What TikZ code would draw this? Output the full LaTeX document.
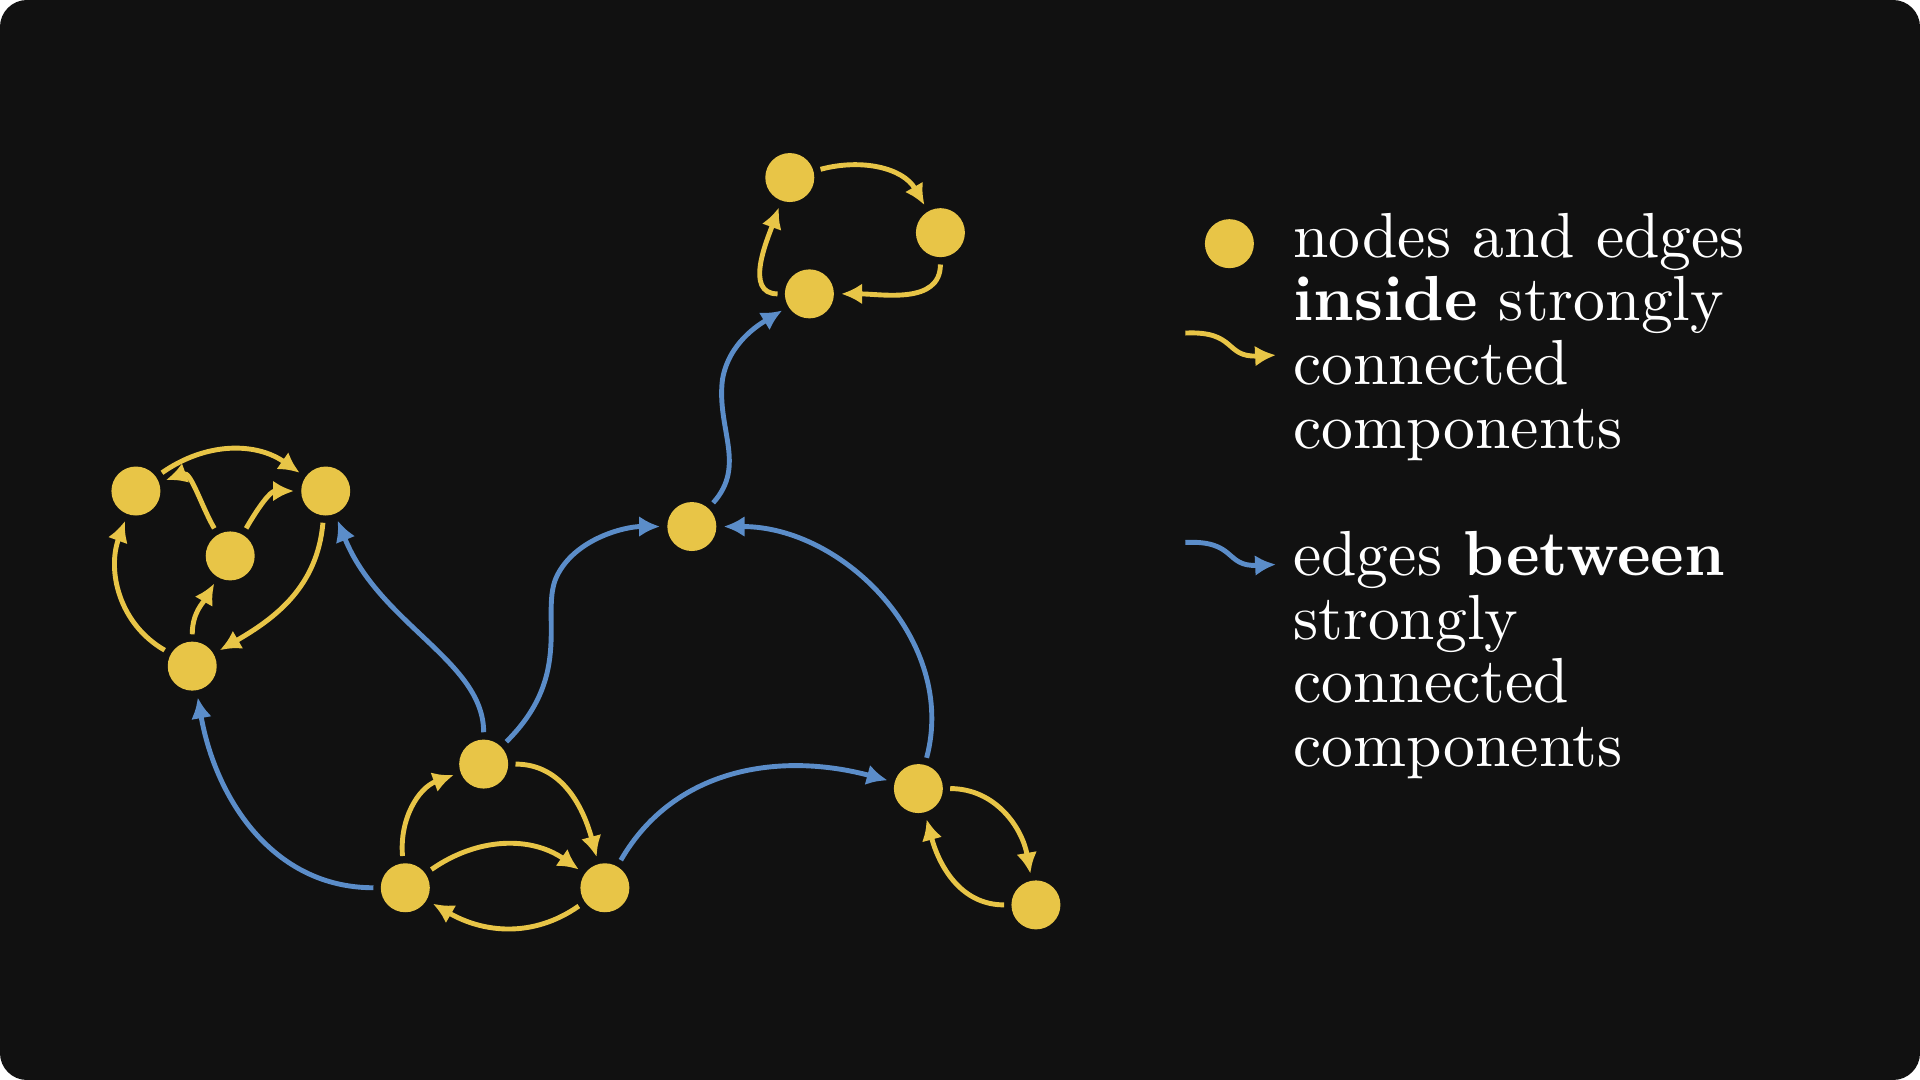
\documentclass[tikz,border=0pt]{standalone}
\usetikzlibrary{arrows.meta}
\definecolor{bg}{HTML}{111111}
\definecolor{yel}{HTML}{E8C547}
\definecolor{blu}{HTML}{5B8DC9}
\newcommand{\bigtxt}[1]{\scalebox{5.2}{\fontsize{10}{12}\selectfont #1}}
\begin{document}
\begin{tikzpicture}[x=1pt,y=-1pt,
  vert/.style={circle,fill=yel,minimum size=40pt,inner sep=0pt,outer sep=6pt},
  ein/.style={draw=yel,line width=4pt,-{Latex[length=17pt,width=17pt]}},
  ebt/.style={draw=blu,line width=4pt,-{Latex[length=17pt,width=17pt]}},
  lab/.style={text=white,anchor=base west,inner sep=0pt}]
\fill[white] (0,0) rectangle (1568,882);
\fill[bg,rounded corners=22pt] (0,0) rectangle (1568,882);
\node[vert] (A) at (645,145) {};
\node[vert] (B) at (768,190) {};
\node[vert] (C) at (661,240) {};
\node[vert] (D) at (111,401) {};
\node[vert] (E) at (266,401) {};
\node[vert] (F) at (188,454) {};
\node[vert] (G) at (157,544) {};
\node[vert] (H) at (565,430) {};
\node[vert] (I) at (395,624) {};
\node[vert] (J) at (331,725) {};
\node[vert] (K) at (494,725) {};
\node[vert] (L) at (750,644) {};
\node[vert] (M) at (846,739) {};
% inside
\draw[ein] (A) to[out=15,in=120] (B);
\draw[ein] (C) to[out=180,in=250] (A);
\draw[ein] (B) to[out=270,in=0] (C);
\draw[ein] (D) to[out=35,in=145] (E);
\draw[ein] (F) to[out=120,in=20] (D);
\draw[ein] (F) to[out=60,in=180] (E);
\draw[ein] (G) to[out=90,in=240] (F);
\draw[ein] (G) to[out=150,in=250] (D);
\draw[ein] (E) to[out=265,in=30] (G);
\draw[ein] (J) to[out=95,in=200] (I);
\draw[ein] (I) to[out=0,in=105] (K);
\draw[ein] (J) to[out=35,in=145] (K);
\draw[ein] (K) to[out=215,in=330] (J);
\draw[ein] (L) to[out=0,in=100] (M);
\draw[ein] (M) to[out=180,in=285] (L);
% between
\draw[ebt] (J) to[out=180,in=280] (G);
\draw[ebt] (I) .. controls (395,540) and (310,510) .. (E);
\draw[ebt] (I) .. controls (470,550) and (440,500) .. (455,470) .. controls (470,440) and (510,430) .. (H);
\draw[ebt] (K) to[out=60,in=165] (L);
\draw[ebt] (L) to[out=75,in=0] (H);
\draw[ebt] (H) .. controls (610,380) and (585,350) .. (590,310) .. controls (595,280) and (620,265) .. (C);
% legend
\node[circle,fill=yel,minimum size=40pt,inner sep=0pt] (lg) at (1004,199) {};
\coordinate (y1) at (968,272); \coordinate (y2) at (1042,290);
\draw[ein] (y1) .. controls (1010,270) and (1000,292) .. (y2);
\coordinate (b1) at (968,443); \coordinate (b2) at (1042,461);
\draw[ebt] (b1) .. controls (1010,441) and (1000,463) .. (b2);
\node[lab] (t1) at (1056,210) {\bigtxt{nodes and edges}};
\node[lab] (t2) at (1056,262) {\bigtxt{\textbf{inside} strongly}};
\node[lab] (t3) at (1056,314) {\bigtxt{connected}};
\node[lab] (t4) at (1056,366) {\bigtxt{components}};
\node[lab] (t5) at (1056,470) {\bigtxt{edges \textbf{between}}};
\node[lab] (t6) at (1056,522) {\bigtxt{strongly}};
\node[lab] (t7) at (1056,574) {\bigtxt{connected}};
\node[lab] (t8) at (1056,626) {\bigtxt{components}};
\end{tikzpicture}
\end{document}
